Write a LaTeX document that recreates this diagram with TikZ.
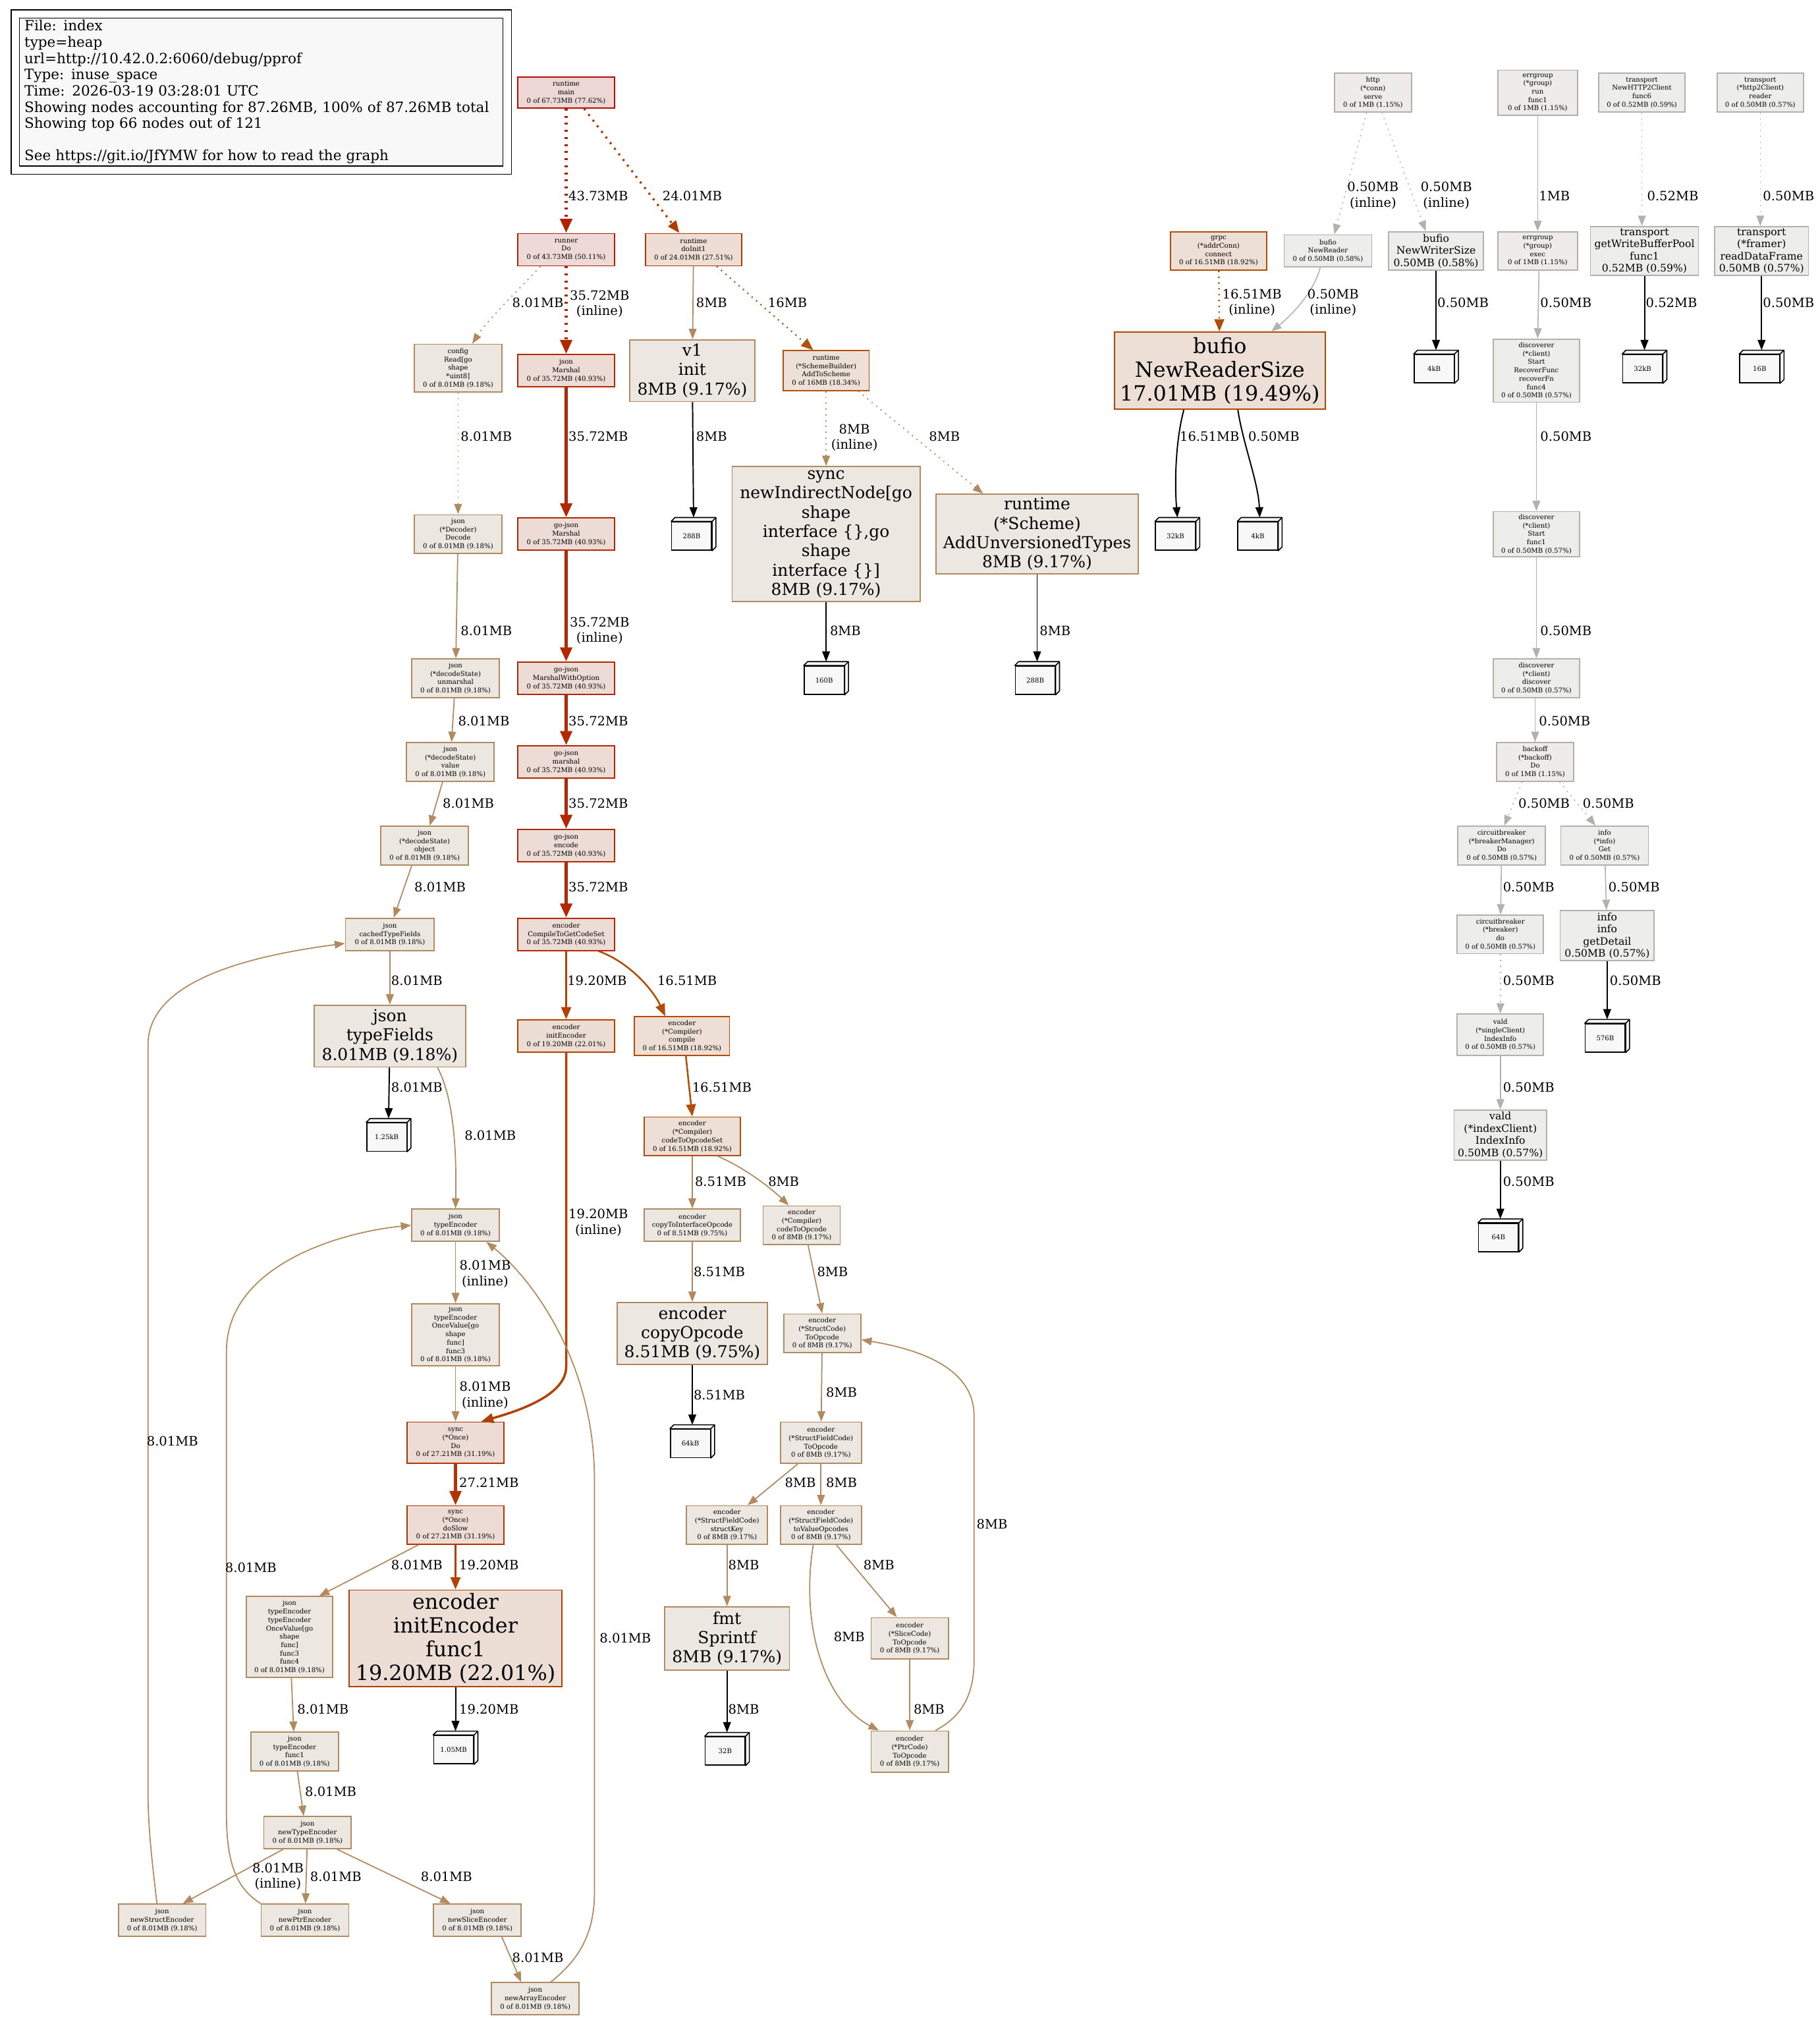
\documentclass[tikz,border=0pt]{standalone}
\usepackage{fontspec}
\setmainfont{DejaVu Serif}
\usetikzlibrary{arrows.meta}
\definecolor{fA}{HTML}{EDD7D5}\definecolor{dA}{HTML}{B20D00}
\definecolor{fB}{HTML}{EDD9D5}\definecolor{dB}{HTML}{B22100}
\definecolor{fC}{HTML}{EDDBD5}\definecolor{dC}{HTML}{B22900}
\definecolor{fD}{HTML}{EDDCD5}\definecolor{dD}{HTML}{B23400}
\definecolor{fE}{HTML}{EDDDD5}\definecolor{dE}{HTML}{B23900}
\definecolor{fF}{HTML}{EDDED5}\definecolor{dF}{HTML}{B24100}
\definecolor{fG}{HTML}{EDDFD6}\definecolor{dG}{HTML}{B24704}
\definecolor{fH}{HTML}{EDDFD6}\definecolor{dH}{HTML}{B24C09}
\definecolor{fI}{HTML}{EDE0D7}\definecolor{dI}{HTML}{B2500E}
\definecolor{fJ}{HTML}{EDE7E1}\definecolor{dJ}{HTML}{B2875B}
\definecolor{fK}{HTML}{EDE7E2}\definecolor{dK}{HTML}{B28A60}
\definecolor{fL}{HTML}{EDECEB}\definecolor{dL}{HTML}{B2AFA8}
\definecolor{fM}{HTML}{EDEDEC}\definecolor{dM}{HTML}{B2B1AD}
\definecolor{leafF}{HTML}{F8F8F8}
\tikzset{
  gvbox/.style={draw, rectangle, align=center, inner sep=0pt, line width=0.9pt},
  sz/.style 2 args={minimum width=#1pt, minimum height=#2pt},
  sm/.style={gvbox, font=\fontsize{5.2}{6.5}\selectfont},
  md/.style={gvbox, font=\fontsize{8}{9.5}\selectfont},
  bg/.style={gvbox, font=\fontsize{12.8}{15}\selectfont},
  hg/.style={gvbox, font=\fontsize{16.3}{18.5}\selectfont},
  cA/.style={fill=fA, draw=dA}, cB/.style={fill=fB, draw=dB},
  cC/.style={fill=fC, draw=dC}, cD/.style={fill=fD, draw=dD},
  cE/.style={fill=fE, draw=dE}, cF/.style={fill=fF, draw=dF},
  cG/.style={fill=fG, draw=dG}, cH/.style={fill=fH, draw=dH},
  cI/.style={fill=fI, draw=dI}, cJ/.style={fill=fJ, draw=dJ},
  cK/.style={fill=fK, draw=dK}, cL/.style={fill=fL, draw=dL},
  cM/.style={fill=fM, draw=dM},
  leafnode/.style={draw=black, fill=leafF, line width=0.8pt, font=\fontsize{5.2}{6.5}\selectfont, minimum width=31pt, minimum height=22pt, inner sep=0pt},
  leafline/.style={draw=black, fill=leafF, line width=0.8pt, line join=round},
  lbl/.style={font=\fontsize{10}{12}\selectfont, align=center, inner sep=0pt},
  tipS/.style={-{Triangle[length=8pt,width=6pt]}},
  tipM/.style={-{Triangle[length=9.5pt,width=7.5pt]}},
  tipL/.style={-{Triangle[length=11pt,width=9pt]}},
  dt/.style={dash pattern=on 1pt off 3.5pt},
  dtk/.style={dash pattern=on 1.5pt off 4pt},
  w43/.style={draw=dB, line width=2.8pt, tipL, dtk},
  w35/.style={draw=dC, line width=2.6pt, tipL},
  w35d/.style={w35, dtk},
  w27/.style={draw=dD, line width=2.1pt, tipL},
  w24/.style={draw=dE, line width=1.7pt, tipM, dtk},
  w19/.style={draw=dF, line width=1.8pt, tipM},
  w165/.style={draw=dH, line width=1.3pt, tipM},
  w165d/.style={w165, dt},
  w16d/.style={draw=dI, line width=1.2pt, tipM, dt},
  w85/.style={draw=dJ, line width=0.9pt, tipS},
  w8/.style={draw=dK, line width=0.9pt, tipS},
  w8d/.style={w8, dt},
  w1/.style={draw=dL, line width=0.9pt, tipS},
  w05/.style={draw=dM, line width=0.8pt, tipS},
  w05d/.style={w05, dt},
  wk/.style={draw=black, line width=1pt, tipS},
}
\newcommand\leafbox[4]{%
  \node[leafnode] (#1) at (#2,#3) {#4};
  \filldraw[leafline] (#1.north west) -- ++(3pt,3pt) -- ([shift={(3pt,3pt)}]#1.north east) -- ([shift={(3pt,3pt)}]#1.south east) -- (#1.south east) -- (#1.north east) -- cycle;
  \draw[leafline] (#1.north east) -- ++(3pt,3pt);
}
\begin{document}
\begin{tikzpicture}[x=1pt,y=-1pt]
\useasboundingbox (0,0) rectangle (1414,1568);
\fill[white] (0,0) rectangle (1414,1568);

% legend
\node[draw=black, fill=leafF, line width=0.6pt, minimum width=376pt, minimum height=115pt, inner xsep=4pt, inner ysep=1pt, align=left, text width=368pt, font=\fontsize{11}{12.6}\selectfont] (legend) at (203,71.5) {File: index\\type=heap\\url=http://10.42.0.2:6060/debug/pprof\\Type: inuse\_space\\Time: 2026-03-19 03:28:01 UTC\\Showing nodes accounting for 87.26MB, 100\% of 87.26MB total\\Showing top 66 nodes out of 121\\\mbox{}\\See https://git.io/JfYMW for how to read the graph};
\draw[line width=0.6pt] ([shift={(-6pt,6pt)}]legend.north west) rectangle ([shift={(6pt,-6pt)}]legend.south east);

% nodes
\node[sm,cA,sz={75}{24}] (main) at (440,72) {runtime\\main\\0 of 67.73MB (77.62\%)};
\node[sm,cB,sz={75}{25}] (rdo) at (440,194) {runner\\Do\\0 of 43.73MB (50.11\%)};
\node[sm,cE,sz={75}{25}] (di) at (539,194) {runtime\\doInit1\\0 of 24.01MB (27.51\%)};
\node[sm,cK,sz={68}{37}] (cfg) at (356,286) {config\\Read[go\\shape\\*uint8]\\0 of 8.01MB (9.18\%)};
\node[sm,cC,sz={75}{25}] (jm) at (440,288) {json\\Marshal\\0 of 35.72MB (40.93\%)};
\node[bg,cK,sz={97}{48}] (v1) at (538,288) {v1\\init\\8MB (9.17\%)};
\node[sm,cI,sz={67}{31}] (sb) at (642,288) {runtime\\(*SchemeBuilder)\\AddToScheme\\0 of 16MB (18.34\%)};
\node[sm,cH,sz={75}{30}] (grpc) at (947,195) {grpc\\(*addrConn)\\connect\\0 of 16.51MB (18.92\%)};
\node[sm,cM,sz={68}{25}] (nrd) at (1032,195) {bufio\\NewReader\\0 of 0.50MB (0.58\%)};
\node[md,cM,sz={74}{30}] (nws) at (1116,195) {bufio\\NewWriterSize\\0.50MB (0.58\%)};
\node[sm,cL,sz={62}{35}] (egr) at (1195,72) {errgroup\\(*group)\\run\\func1\\0 of 1MB (1.15\%)};
\node[sm,cL,sz={60}{30}] (http) at (1067,72) {http\\(*conn)\\serve\\0 of 1MB (1.15\%)};
\node[sm,cM,sz={67}{30}] (h2c) at (1276,72) {transport\\NewHTTP2Client\\func6\\0 of 0.52MB (0.59\%)};
\node[sm,cM,sz={67}{30}] (h2r) at (1368,72) {transport\\(*http2Client)\\reader\\0 of 0.50MB (0.57\%)};
\node[sm,cL,sz={62}{30}] (ege) at (1195,195) {errgroup\\(*group)\\exec\\0 of 1MB (1.15\%)};
\node[md,cM,sz={84}{38}] (wbp) at (1278,195) {transport\\getWriteBufferPool\\func1\\0.52MB (0.59\%)};
\node[md,cM,sz={73}{38}] (rdf) at (1369,195) {transport\\(*framer)\\readDataFrame\\0.50MB (0.57\%)};
\node[hg,cG,sz={164}{60}] (nrs) at (948,288) {bufio\\NewReaderSize\\17.01MB (19.49\%)};
\node[sm,cM,sz={67}{49}] (rf) at (1194,288) {discoverer\\(*client)\\Start\\RecoverFunc\\recoverFn\\func4\\0 of 0.50MB (0.57\%)};
\node[sm,cK,sz={68}{30}] (dec) at (356,415) {json\\(*Decoder)\\Decode\\0 of 8.01MB (9.18\%)};
\node[sm,cC,sz={75}{25}] (gjm) at (440,415) {go-json\\Marshal\\0 of 35.72MB (40.93\%)};
\node[bg,cK,sz={146}{105}] (sni) at (642,415) {sync\\newIndirectNode[go\\shape\\interface \{\},go\\shape\\interface \{\}]\\8MB (9.17\%)};
\node[bg,cK,sz={157}{62}] (aut) at (806,415) {runtime\\(*Scheme)\\AddUnversionedTypes\\8MB (9.17\%)};
\node[sm,cM,sz={67}{35}] (sf1) at (1194,415) {discoverer\\(*client)\\Start\\func1\\0 of 0.50MB (0.57\%)};
\node[sm,cK,sz={68}{30}] (um) at (354,527) {json\\(*decodeState)\\unmarshal\\0 of 8.01MB (9.18\%)};
\node[sm,cC,sz={75}{25}] (gjmw) at (440,527) {go-json\\MarshalWithOption\\0 of 35.72MB (40.93\%)};
\node[sm,cM,sz={67}{30}] (disc) at (1194,527) {discoverer\\(*client)\\discover\\0 of 0.50MB (0.57\%)};
\node[sm,cK,sz={68}{30}] (val) at (350,592) {json\\(*decodeState)\\value\\0 of 8.01MB (9.18\%)};
\node[sm,cC,sz={75}{25}] (gjms) at (440,592) {go-json\\marshal\\0 of 35.72MB (40.93\%)};
\node[sm,cL,sz={60}{30}] (bo) at (1193,592) {backoff\\(*backoff)\\Do\\0 of 1MB (1.15\%)};
\node[sm,cK,sz={68}{30}] (obj) at (330,657) {json\\(*decodeState)\\object\\0 of 8.01MB (9.18\%)};
\node[sm,cC,sz={75}{25}] (gje) at (440,657) {go-json\\encode\\0 of 35.72MB (40.93\%)};
\node[sm,cM,sz={68}{30}] (bm) at (1167,657) {circuitbreaker\\(*breakerManager)\\Do\\0 of 0.50MB (0.57\%)};
\node[sm,cM,sz={68}{30}] (ig) at (1247,657) {info\\(*info)\\Get\\0 of 0.50MB (0.57\%)};
\node[sm,cK,sz={69}{25}] (ctf) at (303,726) {json\\cachedTypeFields\\0 of 8.01MB (9.18\%)};
\node[sm,cC,sz={75}{25}] (cgc) at (440,726) {encoder\\CompileToGetCodeSet\\0 of 35.72MB (40.93\%)};
\node[sm,cM,sz={67}{30}] (bdo) at (1166,726) {circuitbreaker\\(*breaker)\\do\\0 of 0.50MB (0.57\%)};
\node[md,cM,sz={73}{39}] (gd) at (1249,727) {info\\info\\getDetail\\0.50MB (0.57\%)};
\node[bg,cK,sz={118}{48}] (tf) at (303,805) {json\\typeFields\\8.01MB (9.18\%)};
\node[sm,cF,sz={75}{25}] (ie) at (440,805) {encoder\\initEncoder\\0 of 19.20MB (22.01\%)};
\node[sm,cH,sz={74}{30}] (cmp) at (530,805) {encoder\\(*Compiler)\\compile\\0 of 16.51MB (18.92\%)};
\node[sm,cM,sz={67}{32}] (sc1) at (1166,804) {vald\\(*singleClient)\\IndexInfo\\0 of 0.50MB (0.57\%)};
\node[sm,cH,sz={75}{30}] (cos) at (538,883) {encoder\\(*Compiler)\\codeToOpcodeSet\\0 of 16.51MB (18.92\%)};
\node[md,cM,sz={72}{39}] (ic) at (1166,882) {vald\\(*indexClient)\\IndexInfo\\0.50MB (0.57\%)};
\node[sm,cK,sz={68}{25}] (te) at (354,952) {json\\typeEncoder\\0 of 8.01MB (9.18\%)};
\node[sm,cJ,sz={75}{25}] (ctio) at (538,952) {encoder\\copyToInterfaceOpcode\\0 of 8.51MB (9.75\%)};
\node[sm,cK,sz={60}{30}] (cto) at (623,952) {encoder\\(*Compiler)\\codeToOpcode\\0 of 8MB (9.17\%)};
\node[sm,cK,sz={68}{48}] (ov3) at (354,1037) {json\\typeEncoder\\OnceValue[go\\shape\\func]\\func3\\0 of 8.01MB (9.18\%)};
\node[bg,cJ,sz={117}{48}] (cop) at (538,1036) {encoder\\copyOpcode\\8.51MB (9.75\%)};
\node[sm,cK,sz={60}{30}] (sc) at (639,1036) {encoder\\(*StructCode)\\ToOpcode\\0 of 8MB (9.17\%)};
\node[sm,cD,sz={75}{32}] (od) at (354,1121) {sync\\(*Once)\\Do\\0 of 27.21MB (31.19\%)};
\node[sm,cK,sz={63}{32}] (sfc) at (638,1121) {encoder\\(*StructFieldCode)\\ToOpcode\\0 of 8MB (9.17\%)};
\node[sm,cD,sz={75}{30}] (ds) at (354,1185) {sync\\(*Once)\\doSlow\\0 of 27.21MB (31.19\%)};
\node[sm,cK,sz={63}{30}] (sk) at (565,1185) {encoder\\(*StructFieldCode)\\structKey\\0 of 8MB (9.17\%)};
\node[sm,cK,sz={63}{30}] (tvo) at (638,1185) {encoder\\(*StructFieldCode)\\toValueOpcodes\\0 of 8MB (9.17\%)};
\node[sm,cK,sz={67}{63}] (f4) at (225,1272) {json\\typeEncoder\\typeEncoder\\OnceValue[go\\shape\\func]\\func3\\func4\\0 of 8.01MB (9.18\%)};
\node[hg,cF,sz={165}{75}] (ief) at (354,1273) {encoder\\initEncoder\\func1\\19.20MB (22.01\%)};
\node[bg,cK,sz={97}{49}] (spf) at (565,1273) {fmt\\Sprintf\\8MB (9.17\%)};
\node[sm,cK,sz={60}{32}] (slc) at (707,1273) {encoder\\(*SliceCode)\\ToOpcode\\0 of 8MB (9.17\%)};
\node[sm,cK,sz={68}{30}] (tef1) at (229,1361) {json\\typeEncoder\\func1\\0 of 8.01MB (9.18\%)};
\node[sm,cK,sz={60}{32}] (ptr) at (707,1361) {encoder\\(*PtrCode)\\ToOpcode\\0 of 8MB (9.17\%)};
\node[sm,cK,sz={68}{25}] (nte) at (239,1424) {json\\newTypeEncoder\\0 of 8.01MB (9.18\%)};
\node[sm,cK,sz={68}{25}] (nse) at (126,1492) {json\\newStructEncoder\\0 of 8.01MB (9.18\%)};
\node[sm,cK,sz={68}{25}] (npe) at (237,1492) {json\\newPtrEncoder\\0 of 8.01MB (9.18\%)};
\node[sm,cK,sz={68}{25}] (nsl) at (371,1492) {json\\newSliceEncoder\\0 of 8.01MB (9.18\%)};
\node[sm,cK,sz={68}{25}] (nae) at (416,1553) {json\\newArrayEncoder\\0 of 8.01MB (9.18\%)};

% leaves
\leafbox{Lv}{537.5}{416.5}{288B}
\leafbox{Lsni}{640.5}{528.5}{160B}
\leafbox{Laut}{804.5}{528.5}{288B}
\leafbox{Lnrsa}{913.5}{416.5}{32kB}
\leafbox{Lnrsb}{977.5}{416.5}{4kB}
\leafbox{Lnws}{1114.5}{286.5}{4kB}
\leafbox{Lwbp}{1276.5}{286.5}{32kB}
\leafbox{Lrdf}{1367.5}{286.5}{16B}
\leafbox{Lgd}{1247.5}{806.5}{576B}
\leafbox{Lic}{1164.5}{961.5}{64B}
\leafbox{Ltf}{300.5}{883.5}{1.25kB}
\leafbox{Lcop}{536.5}{1121.5}{64kB}
\leafbox{Lief}{352.5}{1359.5}{1.05MB}
\leafbox{Lspf}{563.5}{1360.5}{32B}

% edges
\draw[w43] (main) -- (rdo);
\draw[w24] ([xshift=14pt]main.south) -- ([xshift=-11pt]di.north);
\draw[w8d] ([xshift=-20pt]rdo.south) .. controls (400,228) and (378,250) .. ([xshift=11pt]cfg.north);
\draw[w35d] (rdo) -- (jm);
\draw[w8] (di) -- (v1);
\draw[w16d] ([xshift=18pt]di.south) -- ([xshift=-10pt]sb.north);
\draw[w8d] (cfg) -- (dec);
\draw[w35] (jm) -- (gjm);
\draw[wk] (v1) -- ([shift={(1.5pt,3pt)}]Lv.north);
\draw[w8d] (sb) -- (sni);
\draw[w8d] ([xshift=25pt]sb.south) -- ([xshift=-42pt]aut.north);
\draw[w165d] (grpc) -- (nrs);
\draw[w05] ([xshift=-6pt]nrd.south) .. controls (1020,230) and (1000,248) .. ([xshift=40pt]nrs.north);
\draw[w05d] ([xshift=-5pt]http.south) -- ([xshift=5pt]nrd.north);
\draw[w05d] ([xshift=7pt]http.south) -- ([xshift=-8pt]nws.north);
\draw[wk] (nws) -- ([shift={(1.5pt,3pt)}]Lnws.north);
\draw[w1] (egr) -- (ege);
\draw[w05d] (h2c) -- ([xshift=-2pt]wbp.north);
\draw[w05d] (h2r) -- ([xshift=-1pt]rdf.north);
\draw[wk] (wbp) -- ([shift={(1.5pt,3pt)}]Lwbp.north);
\draw[wk] (rdf) -- ([shift={(1.5pt,3pt)}]Lrdf.north);
\draw[w05] ([xshift=1pt]ege.south) -- ([xshift=1pt]rf.north);
\draw[wk] ([xshift=-28pt]nrs.south) .. controls (913,345) and (913,378) .. ([shift={(1.5pt,3pt)}]Lnrsa.north);
\draw[wk] ([xshift=14pt]nrs.south) .. controls (966,345) and (978,375) .. ([shift={(1.5pt,3pt)}]Lnrsb.north);
\draw[w05] (rf) -- (sf1);
\draw[w8] (dec) -- (um);
\draw[w35] (gjm) -- (gjmw);
\draw[wk] (sni) -- ([shift={(1.5pt,3pt)}]Lsni.north);
\draw[wk] (aut) -- ([shift={(1.5pt,3pt)}]Laut.north);
\draw[w05] (sf1) -- (disc);
\draw[w8] (um) -- (val);
\draw[w35] (gjmw) -- (gjms);
\draw[w05] ([xshift=-1pt]disc.south) -- (bo.north);
\draw[w8] ([xshift=-6pt]val.south) -- ([xshift=4pt]obj.north);
\draw[w35] (gjms) -- (gje);
\draw[w05d] ([xshift=-10pt]bo.south) -- ([xshift=2pt]bm.north);
\draw[w05d] ([xshift=19pt]bo.south) -- ([xshift=-7pt]ig.north);
\draw[w8] ([xshift=-10pt]obj.south) -- ([xshift=3pt]ctf.north);
\draw[w35] (gje) -- (cgc);
\draw[w05] (bm) -- (bdo);
\draw[w05] (ig) -- (gd);
\draw[w8] (ctf) -- (tf);
\draw[w19] (cgc) -- (ie);
\draw[w165] ([xshift=25pt]cgc.south) .. controls (490,748) and (508,770) .. ([xshift=-13pt]cmp.north);
\draw[w05d] (bdo) -- (sc1);
\draw[wk] (gd) -- ([shift={(1.5pt,3pt)}]Lgd.north);
\draw[wk] (tf) -- ([shift={(1.5pt,3pt)}]Ltf.north);
\draw[w8] ([xshift=37pt]tf.south) .. controls (352,852) and (355,890) .. (te.north);
\draw[w19] (ie.south) -- (440,1062) .. controls (440,1085) and (400,1097) .. ([xshift=20pt]od.north);
\draw[w165] ([xshift=3pt]cmp.south) -- (cos.north);
\draw[w05] (sc1) -- (ic);
\draw[w85] (cos) -- (ctio);
\draw[w8] ([xshift=20pt]cos.south) .. controls (580,908) and (600,924) .. ([xshift=-10pt]cto.north);
\draw[wk] (ic) -- ([shift={(1.5pt,3pt)}]Lic.north);
\draw[w8] (te) -- (ov3);
\draw[w85] (ctio) -- (cop);
\draw[w8] ([xshift=5pt]cto.south) -- (sc.north);
\draw[w8] (ov3) -- (od);
\draw[wk] (cop) -- ([shift={(1.5pt,3pt)}]Lcop.north);
\draw[w8] (sc) -- (sfc);
\draw[w27] (od) -- (ds);
\draw[w8] ([xshift=-18pt]sfc.south) -- ([xshift=16pt]sk.north);
\draw[w8] (sfc) -- (tvo);
\draw[w8] ([xshift=-29pt]ds.south) -- ([xshift=23pt]f4.north);
\draw[w19] (ds) -- (ief);
\draw[w8] (sk) -- (spf);
\draw[w8] ([xshift=12pt]tvo.south) -- ([xshift=-10pt]slc.north);
\draw[w8] ([xshift=-6pt]tvo.south) .. controls (622,1262) and (640,1322) .. ([xshift=-24pt]ptr.north);
\draw[w8] ([xshift=20pt]ptr.north) .. controls (745,1335) and (757,1320) .. (757,1290) -- (757,1100) .. controls (757,1062) and (712,1048) .. ([yshift=-5pt]sc.east);
\draw[w8] (f4) -- (tef1);
\draw[wk] (ief) -- ([shift={(1.5pt,3pt)}]Lief.north);
\draw[wk] (spf) -- ([shift={(1.5pt,3pt)}]Lspf.north);
\draw[w8] (slc) -- (ptr);
\draw[w8] (tef1) -- ([xshift=-3pt]nte.north);
\draw[w8] ([xshift=-19pt]nte.south) -- ([xshift=16pt]nse.north);
\draw[w8] (nte) -- (npe);
\draw[w8] ([xshift=23pt]nte.south) -- ([xshift=-21pt]nsl.north);
\draw[w8] ([xshift=19pt]nsl.south) -- ([xshift=-11pt]nae.north);
\draw[w8] ([xshift=-4pt]nse.north) .. controls (118,1445) and (115,1420) .. (115,1390) -- (115,812) .. controls (115,760) and (200,742) .. ([yshift=-7pt]ctf.west);
\draw[w8] (npe.north west) .. controls (185,1468) and (176,1450) .. (176,1410) -- (176,1050) .. controls (176,985) and (260,958) .. (te.west);
\draw[w8] ([xshift=12pt]nae.north) .. controls (448,1524) and (462,1505) .. (462,1470) -- (462,1150) .. controls (462,1060) and (415,995) .. ([xshift=24pt]te.south);

% edge labels
\node[lbl] (l1) at (465,152) {43.73MB};
\node[lbl] (l2) at (538,152) {24.01MB};
\node[lbl] (l3) at (418,235) {8.01MB};
\node[lbl] (l4) at (466,236) {35.72MB\\(inline)};
\node[lbl] (l5) at (553,235) {8MB};
\node[lbl] (l6) at (612,235) {16MB};
\node[lbl] (l7) at (378,339) {8.01MB};
\node[lbl] (l8) at (465,339) {35.72MB};
\node[lbl] (l9) at (553,339) {8MB};
\node[lbl] (l10) at (664,340) {8MB\\(inline)};
\node[lbl] (l11) at (734,339) {8MB};
\node[lbl] (l12) at (973,235) {16.51MB\\(inline)};
\node[lbl] (l13) at (1036,235) {0.50MB\\(inline)};
\node[lbl] (l14) at (1067,152) {0.50MB\\(inline)};
\node[lbl] (l15) at (1124,152) {0.50MB\\(inline)};
\node[lbl] (l16) at (1137,235) {0.50MB};
\node[lbl] (l17) at (1208,152) {1MB};
\node[lbl] (l18) at (1300,152) {0.52MB};
\node[lbl] (l19) at (1390,152) {0.50MB};
\node[lbl] (l20) at (1299,235) {0.52MB};
\node[lbl] (l21) at (1390,235) {0.50MB};
\node[lbl] (l22) at (1217,235) {0.50MB};
\node[lbl] (l23) at (940,339) {16.51MB};
\node[lbl] (l24) at (990,339) {0.50MB};
\node[lbl] (l25) at (1217,339) {0.50MB};
\node[lbl] (l26) at (378,490) {8.01MB};
\node[lbl] (l27) at (466,490) {35.72MB\\(inline)};
\node[lbl] (l28) at (657,490) {8MB};
\node[lbl] (l29) at (820,490) {8MB};
\node[lbl] (l30) at (1217,490) {0.50MB};
\node[lbl] (l31) at (376,560) {8.01MB};
\node[lbl] (l32) at (465,560) {35.72MB};
\node[lbl] (l33) at (1216,560) {0.50MB};
\node[lbl] (l34) at (364,624) {8.01MB};
\node[lbl] (l35) at (465,624) {35.72MB};
\node[lbl] (l36) at (1200,624) {0.50MB};
\node[lbl] (l37) at (1250,624) {0.50MB};
\node[lbl] (l38) at (342,689) {8.01MB};
\node[lbl] (l39) at (465,689) {35.72MB};
\node[lbl] (l40) at (1188,689) {0.50MB};
\node[lbl] (l41) at (1270,689) {0.50MB};
\node[lbl] (l42) at (324,762) {8.01MB};
\node[lbl] (l43) at (464,762) {19.20MB};
\node[lbl] (l44) at (534,762) {16.51MB};
\node[lbl] (l45) at (1188,762) {0.50MB};
\node[lbl] (l46) at (1271,762) {0.50MB};
\node[lbl] (l47) at (324,845) {8.01MB};
\node[lbl] (l48) at (381,882) {8.01MB};
\node[lbl] (l49) at (561,845) {16.51MB};
\node[lbl] (l50) at (1188,845) {0.50MB};
\node[lbl] (l51) at (465,950) {19.20MB\\(inline)};
\node[lbl] (l52) at (560,918) {8.51MB};
\node[lbl] (l53) at (609,918) {8MB};
\node[lbl] (l54) at (1188,918) {0.50MB};
\node[lbl] (l55) at (377,990) {8.01MB\\(inline)};
\node[lbl] (l56) at (559,988) {8.51MB};
\node[lbl] (l57) at (647,988) {8MB};
\node[lbl] (l58) at (377,1084) {8.01MB\\(inline)};
\node[lbl] (l59) at (559,1084) {8.51MB};
\node[lbl] (l60) at (654,1082) {8MB};
\node[lbl] (l61) at (771,1184) {8MB};
\node[lbl] (l62) at (380,1152) {27.21MB};
\node[lbl] (l63) at (622,1152) {8MB};
\node[lbl] (l64) at (654,1152) {8MB};
\node[lbl] (l65) at (134,1120) {8.01MB};
\node[lbl] (l66) at (195,1218) {8.01MB};
\node[lbl] (l67) at (324,1216) {8.01MB};
\node[lbl] (l68) at (380,1216) {19.20MB};
\node[lbl] (l69) at (578,1216) {8MB};
\node[lbl] (l70) at (683,1216) {8MB};
\node[lbl] (l71) at (660,1272) {8MB};
\node[lbl] (l72) at (486,1273) {8.01MB};
\node[lbl] (l73) at (251,1328) {8.01MB};
\node[lbl] (l74) at (380,1328) {19.20MB};
\node[lbl] (l75) at (578,1328) {8MB};
\node[lbl] (l76) at (722,1328) {8MB};
\node[lbl] (l77) at (257,1392) {8.01MB};
\node[lbl] (l78) at (216,1458) {8.01MB\\(inline)};
\node[lbl] (l79) at (261,1458) {8.01MB};
\node[lbl] (l80) at (347,1458) {8.01MB};
\node[lbl] (l81) at (418,1521) {8.01MB};
\end{tikzpicture}
\end{document}
